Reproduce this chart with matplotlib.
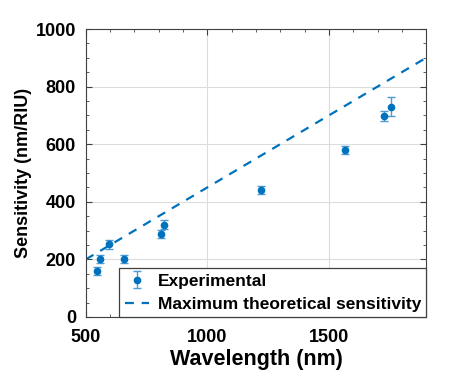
import matplotlib
matplotlib.use("Agg")
import matplotlib.pyplot as plt
from matplotlib.ticker import MultipleLocator

plt.rcParams['font.family'] = ['Liberation Sans', 'DejaVu Sans']

# measured points
wavelength = [546, 557, 594, 658, 808, 820, 1222, 1568, 1728, 1754]
sensitivity = [160, 200, 252, 200, 288, 320, 440, 580, 697, 730]
sens_err = [14, 14, 17, 14, 14, 16, 14, 13, 18, 33]

# theoretical limit
theory_wl = [500, 1900]
theory_sens = [200, 900]

blue = '#0072BD'
axis_grey = '#404040'

fig = plt.figure(figsize=(4.74, 3.71), dpi=100)
ax = fig.add_axes([0.181, 0.1456, 0.718, 0.7762])

exp = ax.errorbar(wavelength, sensitivity, yerr=sens_err, fmt='o', color=blue,
                  markersize=4.5, ecolor='#4a9ad4', elinewidth=1, capsize=3,
                  capthick=1, label='Experimental', zorder=3)
th, = ax.plot(theory_wl, theory_sens, '--', color=blue, lw=1.6, dashes=(4, 3.5),
              label='Maximum theoretical sensitivity', zorder=2)

ax.set_xlim(500, 1900)
ax.set_ylim(0, 1000)
ax.xaxis.set_major_locator(MultipleLocator(500))
ax.xaxis.set_minor_locator(MultipleLocator(100))
ax.yaxis.set_major_locator(MultipleLocator(200))
ax.yaxis.set_minor_locator(MultipleLocator(50))
ax.grid(True, which='major', color='#dcdcdc', lw=0.8)
ax.set_axisbelow(True)

ax.tick_params(which='both', direction='in', top=True, right=True,
               color=axis_grey)
ax.tick_params(which='major', length=4, labelsize=13)
ax.tick_params(axis='x', which='major', pad=9)
ax.tick_params(axis='y', which='major', pad=7)
ax.tick_params(which='minor', length=2.5)
for lab in ax.get_xticklabels() + ax.get_yticklabels():
    lab.set_fontweight('bold')
for sp in ax.spines.values():
    sp.set_color(axis_grey)
    sp.set_linewidth(0.8)

ax.set_xlabel('Wavelength (nm)', fontsize=15.5, fontweight='bold', labelpad=2)
ax.set_ylabel('Sensitivity (nm/RIU)', fontsize=13, fontweight='bold', labelpad=3)

leg = ax.legend([exp, th], ['Experimental', 'Maximum theoretical sensitivity'],
                loc='lower right', borderaxespad=0, fancybox=False,
                framealpha=1, edgecolor=axis_grey, handlelength=1.4,
                handletextpad=0.5, borderpad=0.3, labelspacing=0.45,
                prop={'weight': 'bold', 'size': 12.5})
leg.get_frame().set_linewidth(0.9)

fig.savefig('out.png', dpi=100)
